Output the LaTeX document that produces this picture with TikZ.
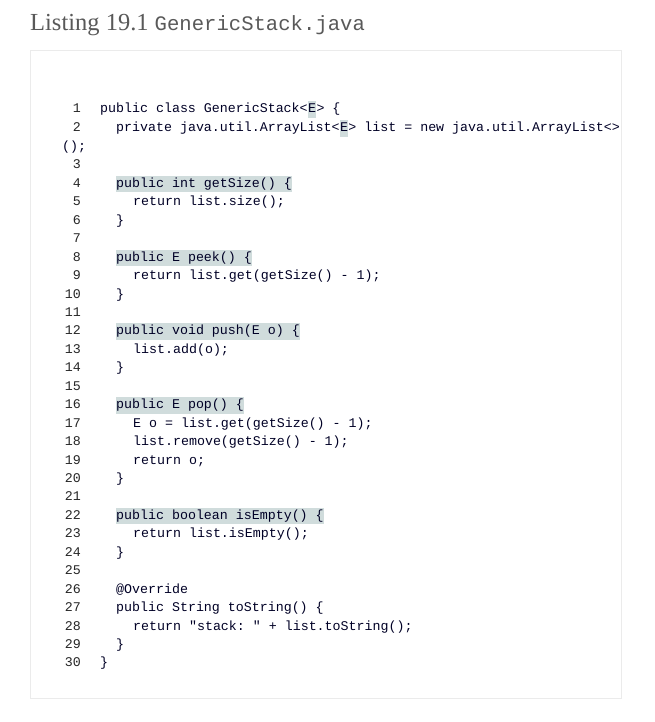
\documentclass[tikz,border=0pt]{standalone}
\usepackage{fontspec}
\setmainfont{Liberation Serif}
\setmonofont{Liberation Mono}
\begin{document}
\begin{tikzpicture}[x=1pt,y=-1pt,
  code/.style={anchor=base west,inner xsep=0pt,inner ysep=0pt,text height=9.5pt,text depth=3pt,font=\ttfamily\fontsize{13.3}{14}\selectfont,text=black!85!blue},
  hl/.style={code,fill=hlc,inner ysep=2pt},
  num/.style={anchor=base east,inner sep=0pt,font=\ttfamily\fontsize{13.3}{14}\selectfont,text=black!85}]
\definecolor{hlc}{HTML}{D0DCDC}
\useasboundingbox (0,0) rectangle (654,722);
\fill[white] (0,0) rectangle (654,722);
\node[anchor=base west,inner sep=0pt,text=black!65] (title) at (30,31) {\fontsize{24.5}{26}\selectfont Listing 19.1 \ttfamily\fontsize{20.6}{24}\selectfont GenericStack.java};
\draw[draw=black!8,line width=1pt] (30,51) rectangle (621,698);
% line 1
\node[num] (n1) at (81,113) {1};
\node[code] (c1a) at (100,113) {public class GenericStack<};
\node[hl,anchor=base west] (c1b) at (c1a.base east) {E};
\node[code] (c1c) at (c1b.base east) {> \{};
% line 2
\node[num] (n2) at (81,132) {2};
\node[code] (c2a) at (116,132) {private java.util.ArrayList<};
\node[hl,anchor=base west] (c2b) at (c2a.base east) {E};
\node[code] (c2c) at (c2b.base east) {> list = new java.util.ArrayList<>};
\node[code] (c2d) at (62,151) {();};
\newcommand{\Y}[1]{169+(#1-3)*18.44}
\node[num] (n3) at (81,{\Y{3}}) {3};
\node[num] (n4) at (81,{\Y{4}}) {4};
\node[hl] (c4) at (116,{\Y{4}}) {public int getSize() \{};
\node[num] (n5) at (81,{\Y{5}}) {5};
\node[code] (c5) at (133,{\Y{5}}) {return list.size();};
\node[num] (n6) at (81,{\Y{6}}) {6};
\node[code] (c6) at (116,{\Y{6}}) {\}};
\node[num] (n7) at (81,{\Y{7}}) {7};
\node[num] (n8) at (81,{\Y{8}}) {8};
\node[hl] (c8) at (116,{\Y{8}}) {public E peek() \{};
\node[num] (n9) at (81,{\Y{9}}) {9};
\node[code] (c9) at (133,{\Y{9}}) {return list.get(getSize() - 1);};
\node[num] (n10) at (81,{\Y{10}}) {10};
\node[code] (c10) at (116,{\Y{10}}) {\}};
\node[num] (n11) at (81,{\Y{11}}) {11};
\node[num] (n12) at (81,{\Y{12}}) {12};
\node[hl] (c12) at (116,{\Y{12}}) {public void push(E o) \{};
\node[num] (n13) at (81,{\Y{13}}) {13};
\node[code] (c13) at (133,{\Y{13}}) {list.add(o);};
\node[num] (n14) at (81,{\Y{14}}) {14};
\node[code] (c14) at (116,{\Y{14}}) {\}};
\node[num] (n15) at (81,{\Y{15}}) {15};
\node[num] (n16) at (81,{\Y{16}}) {16};
\node[hl] (c16) at (116,{\Y{16}}) {public E pop() \{};
\node[num] (n17) at (81,{\Y{17}}) {17};
\node[code] (c17) at (133,{\Y{17}}) {E o = list.get(getSize() - 1);};
\node[num] (n18) at (81,{\Y{18}}) {18};
\node[code] (c18) at (133,{\Y{18}}) {list.remove(getSize() - 1);};
\node[num] (n19) at (81,{\Y{19}}) {19};
\node[code] (c19) at (133,{\Y{19}}) {return o;};
\node[num] (n20) at (81,{\Y{20}}) {20};
\node[code] (c20) at (116,{\Y{20}}) {\}};
\node[num] (n21) at (81,{\Y{21}}) {21};
\node[num] (n22) at (81,{\Y{22}}) {22};
\node[hl] (c22) at (116,{\Y{22}}) {public boolean isEmpty() \{};
\node[num] (n23) at (81,{\Y{23}}) {23};
\node[code] (c23) at (133,{\Y{23}}) {return list.isEmpty();};
\node[num] (n24) at (81,{\Y{24}}) {24};
\node[code] (c24) at (116,{\Y{24}}) {\}};
\node[num] (n25) at (81,{\Y{25}}) {25};
\node[num] (n26) at (81,{\Y{26}}) {26};
\node[code] (c26) at (116,{\Y{26}}) {@Override};
\node[num] (n27) at (81,{\Y{27}}) {27};
\node[code] (c27) at (116,{\Y{27}}) {public String toString() \{};
\node[num] (n28) at (81,{\Y{28}}) {28};
\node[code] (c28) at (133,{\Y{28}}) {return "stack: " + list.toString();};
\node[num] (n29) at (81,{\Y{29}}) {29};
\node[code] (c29) at (116,{\Y{29}}) {\}};
\node[num] (n30) at (81,{\Y{30}}) {30};
\node[code] (c30) at (100,{\Y{30}}) {\}};
\end{tikzpicture}
\end{document}
